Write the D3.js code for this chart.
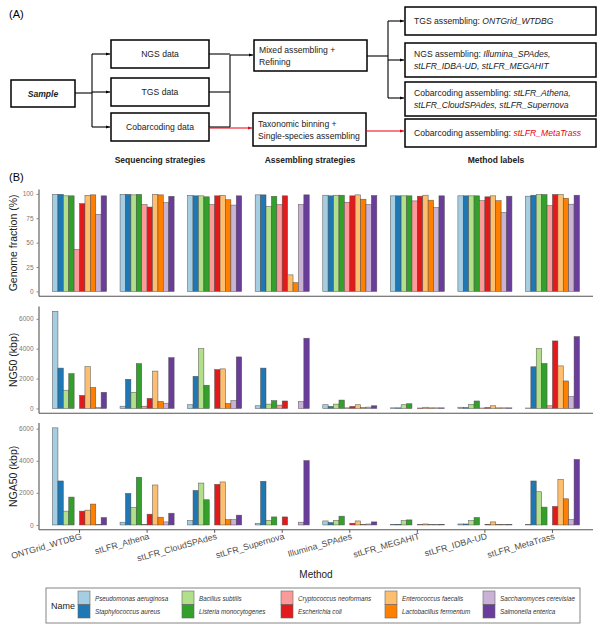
<!DOCTYPE html>
<html>
<head>
<meta charset="utf-8">
<script src="https://cdn.jsdelivr.net/npm/d3@7"></script>
<style>
  body { margin: 0; background: #fff; }
  svg { font-family: "Liberation Sans", Arial, sans-serif; }
</style>
</head>
<body>
<svg id="fig" width="600" height="629"></svg>
<script>
// ---- data ----
const methods = ["ONTGrid_WTDBG", "stLFR_Athena", "stLFR_CloudSPAdes", "stLFR_Supernova",
  "Illumina_SPAdes", "stLFR_MEGAHIT", "stLFR_IDBA-UD", "stLFR_MetaTrass"];

const species = ["Pseudomonas aeruginosa", "Staphylococcus aureus", "Bacillus subtilis",
  "Listeria monocytogenes", "Cryptococcus neoformans", "Escherichia coli",
  "Enterococcus faecalis", "Lactobacillus fermentum", "Saccharomyces cerevisiae", "Salmonella enterica"];

// one row per method, columns follow `species`
const genomeFraction = [
  [99.5, 99.5, 98, 98, 43, 90, 98.5, 99, 79, 98],
  [99.5, 99.5, 99, 99.5, 89, 86.5, 99.5, 99, 91, 97.5],
  [98.5, 98, 98, 97, 89, 98, 98.5, 94, 88.5, 98],
  [99, 99, 87, 97.5, 89, 98, 17, 9, 89, 99],
  [98.6, 98, 98.6, 98.6, 91.4, 98, 99, 94.5, 89, 98.3],
  [98, 98, 98, 98, 92.8, 97.6, 98.6, 93.5, 86, 98],
  [98, 98, 98, 98, 93, 97, 98, 93, 81, 97.6],
  [97.6, 98.6, 99.3, 99.3, 88, 99.3, 99.3, 95.5, 89.4, 98.6]
];

const ng50 = [
  [6500, 2700, 1220, 2330, 0, 870, 2800, 1400, 60, 1080],
  [150, 1950, 1080, 3000, 150, 670, 2500, 470, 350, 3400],
  [250, 2150, 4000, 1550, 0, 2600, 2650, 330, 520, 3450],
  [180, 2700, 290, 520, 220, 500, 0, 0, 460, 4700],
  [250, 135, 290, 560, 40, 135, 250, 60, 90, 180],
  [40, 40, 250, 315, 0, 30, 80, 40, 40, 40],
  [80, 60, 270, 500, 30, 60, 180, 40, 40, 40],
  [30, 2790, 4020, 3010, 180, 4520, 2850, 1840, 790, 4810]
];

const nga50 = [
  [6050, 2740, 860, 1735, 0, 860, 920, 1300, 40, 460],
  [170, 1965, 1090, 2970, 40, 670, 2490, 480, 190, 730],
  [270, 2150, 2610, 1570, 0, 2530, 2680, 330, 330, 610],
  [90, 2720, 290, 500, 0, 500, 0, 0, 170, 4010],
  [250, 150, 290, 545, 0, 105, 250, 40, 60, 190],
  [40, 40, 270, 315, 0, 20, 60, 20, 20, 40],
  [60, 60, 270, 460, 0, 40, 190, 40, 20, 40],
  [20, 2740, 2070, 1110, 0, 1150, 2840, 1630, 330, 4080]
];

const panelTitles = ["Genome fraction (%)", "NG50 (kbp)", "NGA50 (kbp)"];
const panelTicks = [[0, 25, 50, 75, 100], [0, 2000, 4000, 6000], [0, 2000, 4000, 6000]];

const svg = d3.select("#fig");
const color = d3.scaleOrdinal().domain(species).range(d3.schemePaired);

// ---- (A) flow diagram ----
svg.append("text").attr("x", 9).attr("y", 18).attr("font-size", 11).text("(A)");
svg.append("text").attr("x", 9).attr("y", 181).attr("font-size", 11).text("(B)");

const defs = svg.append("defs");
[["arrowK", "#000"], ["arrowR", "#e8000b"]].forEach(([id, c]) => {
  defs.append("marker").attr("id", id).attr("viewBox", "0 0 10 10")
    .attr("refX", 10).attr("refY", 5).attr("markerWidth", 4).attr("markerHeight", 4)
    .attr("orient", "auto")
    .append("path").attr("d", "M0,1L10,5L0,9Z").attr("fill", c);
});

const diagram = svg.append("g").attr("font-size", 8.6);

// boxes: [x, y, w, h, align, lines]; each line is a list of [text, style]
const boxes = [
  [11, 80, 64, 27, "middle", [[["Sample", "bi"]]]],
  [111, 40, 98, 28, "middle", [[["NGS data", ""]]]],
  [111, 78, 98, 28, "middle", [[["TGS data", ""]]]],
  [111, 113, 98, 28, "middle", [[["Cobarcoding data", ""]]]],
  [254, 40, 113, 31, "start", [[["Mixed assembling +", ""]], [["Refining", ""]]]],
  [253, 113, 113, 33, "start", [[["Taxonomic binning +", ""]], [["Single-species assembling", ""]]]],
  [405, 7, 191, 28, "start", [[["TGS assembling: ", ""], ["ONTGrid_WTDBG", "i"]]]],
  [405, 43, 191, 34, "start", [[["NGS assembling: ", ""], ["Illumina_SPAdes,", "i"]], [["stLFR_IDBA-UD, stLFR_MEGAHIT", "i"]]]],
  [405, 82, 191, 34, "start", [[["Cobarcoding assembling: ", ""], ["stLFR_Athena,", "i"]], [["stLFR_CloudSPAdes, stLFR_Supernova", "i"]]]],
  [405, 119, 191, 28, "start", [[["Cobarcoding assembling: ", ""], ["stLFR_MetaTrass", "ir"]]]]
];

boxes.forEach(([x, y, w, h, align, lines]) => {
  diagram.append("rect").attr("x", x).attr("y", y).attr("width", w).attr("height", h)
    .attr("fill", "#fff").attr("stroke", "#000").attr("stroke-width", 1.5);
  const lh = 12;
  const y0 = y + h / 2 - (lines.length - 1) * lh / 2 + 3.2;
  lines.forEach((parts, i) => {
    const t = diagram.append("text")
      .attr("x", align === "middle" ? x + w / 2 : x + (w > 150 ? 9 : 5))
      .attr("y", y0 + i * lh)
      .attr("text-anchor", align)
      .attr("fill", "#222");
    parts.forEach(([s, st]) => {
      t.append("tspan").text(s)
        .attr("font-style", st.includes("i") ? "italic" : null)
        .attr("font-weight", st.includes("b") ? "bold" : null)
        .attr("fill", st.includes("r") ? "#e8000b" : null);
    });
  });
});

function seg(pts, stroke, marker) {
  diagram.append("path").attr("d", d3.line()(pts)).attr("fill", "none")
    .attr("stroke", stroke).attr("stroke-width", 1.1)
    .attr("marker-end", marker ? `url(#${marker})` : null);
}
// sample -> data types
seg([[75, 93], [92, 93]], "#000");
seg([[92, 54], [92, 127]], "#000");
seg([[92, 54], [110, 54]], "#000", "arrowK");
seg([[92, 92], [110, 92]], "#000", "arrowK");
seg([[92, 127], [110, 127]], "#000", "arrowK");
// data types -> mixed assembling
seg([[209, 54], [230, 54]], "#000");
seg([[209, 92], [230, 92]], "#000");
seg([[209, 127], [230, 127]], "#000");
seg([[230, 55], [230, 127]], "#000");
seg([[230, 55], [253, 55]], "#000", "arrowK");
seg([[209, 128], [252, 128]], "#e8000b", "arrowR");
// mixed -> labels
seg([[367, 56], [388, 56]], "#000");
seg([[388, 21], [388, 98]], "#000");
seg([[388, 21], [404, 21]], "#000", "arrowK");
seg([[388, 60], [404, 60]], "#000", "arrowK");
seg([[388, 98], [404, 98]], "#000", "arrowK");
seg([[366, 131], [404, 131]], "#e8000b", "arrowR");

[["Sequencing strategies", 160], ["Assembling strategies", 310], ["Method labels", 496]]
  .forEach(([s, x]) => {
    diagram.append("text").attr("x", x).attr("y", 163).attr("text-anchor", "middle")
      .attr("font-weight", "bold").attr("font-size", 8.5).attr("fill", "#222").text(s);
  });

// ---- (B) bar panels ----
const left = 39, right = 593;
const x0 = d3.scaleBand().domain(methods).range([left, right]).paddingInner(0.2).paddingOuter(0.2);
const x1 = d3.scaleBand().domain(species).range([0, x0.bandwidth()]);

const panelTop = [189.5, 306.5, 423];
const panelH = 106.8;
const panelData = [genomeFraction, ng50, nga50];

panelData.forEach((vals, p) => {
  const top = panelTop[p], bottom = top + panelH;
  const max = d3.max(vals.flat());
  const y = d3.scaleLinear().domain([-max * 0.05, max * 1.05]).range([bottom, top]);
  const g = svg.append("g");

  const groups = g.selectAll("g.grp").data(methods).join("g")
    .attr("transform", m => `translate(${x0(m)},0)`);
  groups.selectAll("rect").data((m, i) => vals[i].map((v, j) => ({ v, s: species[j] })))
    .join("rect")
    .attr("x", d => x1(d.s))
    .attr("width", x1.bandwidth())
    .attr("y", d => y(d.v))
    .attr("height", d => y(0) - y(d.v))
    .attr("fill", d => color(d.s))
    .attr("stroke", "#4a4a4a").attr("stroke-opacity", 0.8).attr("stroke-width", 0.6);

  const ya = g.append("g").attr("transform", `translate(${left},0)`)
    .call(d3.axisLeft(y).tickValues(panelTicks[p]).tickFormat(d3.format("d"))
      .tickSize(2.5).tickPadding(3));
  ya.select(".domain").attr("d", `M0,${top}V${bottom}`).attr("stroke", "#555").attr("stroke-width", 1.1);
  ya.selectAll(".tick line").attr("stroke", "#888");
  ya.selectAll(".tick text").attr("fill", "#777").attr("font-size", 6.5)
    .attr("font-family", "Liberation Sans, Arial, sans-serif");

  g.append("line").attr("x1", left).attr("x2", right).attr("y1", bottom).attr("y2", bottom)
    .attr("stroke", "#555").attr("stroke-width", 1.1);

  g.append("text")
    .attr("transform", `translate(17,${(top + bottom) / 2}) rotate(-90)`)
    .attr("text-anchor", "middle").attr("font-size", 10.5).attr("fill", "#222")
    .text(panelTitles[p]);

  if (p === 2) {
    const xa = g.append("g").attr("transform", `translate(0,${bottom})`)
      .call(d3.axisBottom(x0).tickSize(3).tickSizeOuter(0));
    xa.select(".domain").remove();
    xa.selectAll(".tick line").attr("stroke", "#555");
    xa.selectAll(".tick text")
      .attr("font-size", 8.8).attr("fill", "#4d4d4d")
      .attr("font-family", "Liberation Sans, Arial, sans-serif")
      .attr("text-anchor", "end")
      .attr("transform", "translate(1,3) rotate(-16)")
      .attr("y", 0).attr("dy", "0.71em");
  }
});

svg.append("text").attr("x", (left + right) / 2).attr("y", 578).attr("text-anchor", "middle")
  .attr("font-size", 10).attr("fill", "#222").text("Method");

// ---- legend ----
const lg = svg.append("g");
lg.append("rect").attr("x", 46).attr("y", 588).attr("width", 534).attr("height", 35)
  .attr("fill", "#fff").attr("stroke", "#666").attr("stroke-width", 0.8);
lg.append("text").attr("x", 51).attr("y", 609).attr("font-size", 9).attr("fill", "#222").text("Name");
const colX = [78, 182, 281, 385, 483];
species.forEach((s, i) => {
  const c = Math.floor(i / 2), r = i % 2;
  const kx = colX[c], ky = 591 + r * 13.5;
  lg.append("rect").attr("x", kx).attr("y", ky).attr("width", 12).attr("height", 13.5)
    .attr("fill", color(s)).attr("stroke", "#666").attr("stroke-width", 0.6);
  lg.append("text").attr("x", kx + 17).attr("y", ky + 9.5).attr("font-size", 6.3)
    .attr("font-style", "italic").attr("fill", "#333").text(s);
});
</script>
</body>
</html>
